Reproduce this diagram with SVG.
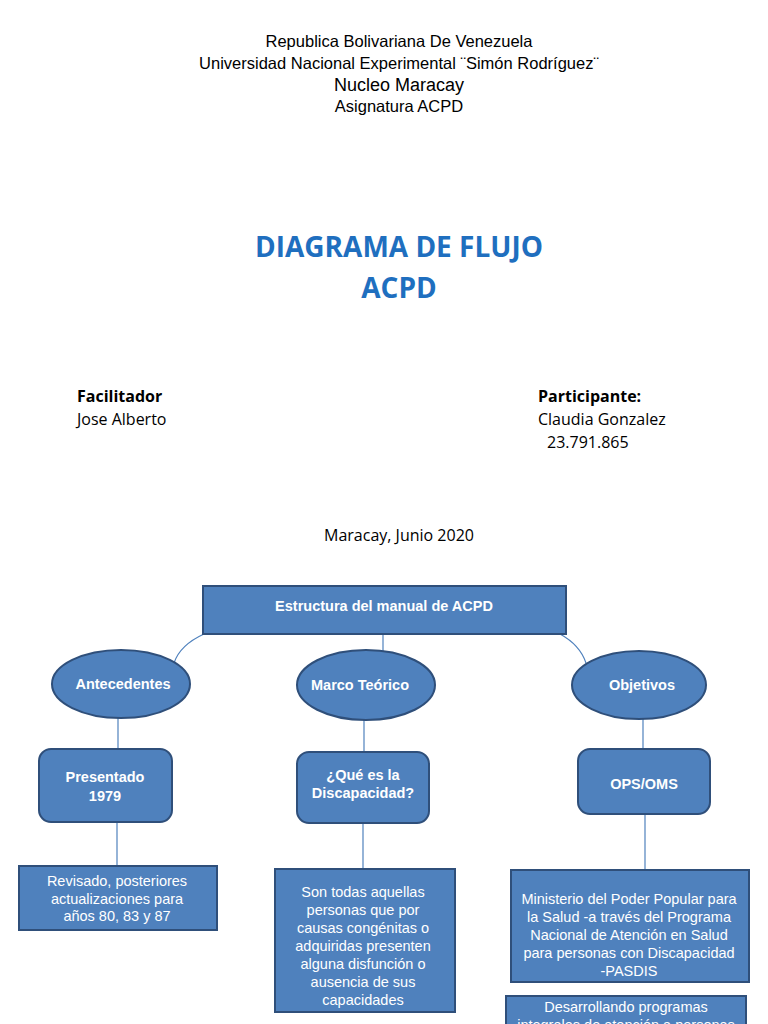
<svg xmlns="http://www.w3.org/2000/svg" width="768" height="1024" viewBox="0 0 768 1024">
<style>
.h{font-family:"Liberation Sans",Arial,sans-serif;fill:#000;text-anchor:middle}
.c{font-family:"Open Sans","Liberation Sans",sans-serif;fill:#000}
.t{font-family:"Open Sans","Liberation Sans",sans-serif;fill:#1F6FBF;font-weight:bold;font-size:28px;text-anchor:middle}
.n{fill:#4F81BD;stroke:#2F4F7A;stroke-width:2}
.w{font-family:"Liberation Sans",Arial,sans-serif;fill:#fff;text-anchor:middle;font-size:14.5px}
.b{font-weight:bold}
.l{fill:none;stroke:#4F81BD;stroke-width:1.2}
</style>
<rect width="768" height="1024" fill="#fff"/>
<text class="h" x="399" y="47" font-size="16.5">Republica Bolivariana De Venezuela</text>
<text class="h" x="399" y="69" font-size="16.5">Universidad Nacional Experimental ¨Simón Rodríguez¨</text>
<text class="h" x="399" y="91" font-size="18">Nucleo Maracay</text>
<text class="h" x="399" y="112" font-size="16.5">Asignatura ACPD</text>
<text class="t" x="399" y="257">DIAGRAMA DE FLUJO</text>
<text class="t" x="399" y="298">ACPD</text>
<text class="c b" x="77" y="402" font-size="16">Facilitador</text>
<text class="c" x="77" y="425" font-size="16">Jose Alberto</text>
<text class="c b" x="538" y="402" font-size="16">Participante:</text>
<text class="c" x="538" y="425" font-size="16">Claudia Gonzalez</text>
<text class="c" x="547" y="448" font-size="16">23.791.865</text>
<text class="c" x="399" y="541" font-size="16" text-anchor="middle">Maracay, Junio 2020</text>
<g id="connectors">
<path class="l" d="M204 634 Q180 645 174 663"/>
<path class="l" d="M383 635 V653"/>
<path class="l" d="M560 634 Q580 645 586 663"/>
<path class="l" d="M118 718 V749"/>
<path class="l" d="M364 719 V752"/>
<path class="l" d="M643 718 V749"/>
<path class="l" d="M117 822 V866"/>
<path class="l" d="M363 823 V869"/>
<path class="l" d="M645 814 V870"/>
</g>
<g id="root"><rect class="n" x="203" y="586" width="363" height="48"/><text class="w b" x="384" y="611">Estructura del manual de ACPD</text></g>
<g id="antecedentes"><ellipse class="n" cx="121" cy="684" rx="69" ry="34"/><text class="w b" x="123" y="689">Antecedentes</text></g>
<g id="marco"><ellipse class="n" cx="366" cy="685" rx="69" ry="35"/><text class="w b" x="360" y="690">Marco Teórico</text></g>
<g id="objetivos"><ellipse class="n" cx="639" cy="685" rx="67" ry="34"/><text class="w b" x="642" y="690">Objetivos</text></g>
<g id="presentado"><rect class="n" x="39" y="749" width="133" height="73" rx="12"/><text class="w b" x="105" y="782">Presentado</text><text class="w b" x="105" y="801">1979</text></g>
<g id="que"><rect class="n" x="297" y="752" width="132" height="71" rx="12"/><text class="w b" x="363" y="780">¿Qué es la</text><text class="w b" x="363" y="798">Discapacidad?</text></g>
<g id="ops"><rect class="n" x="578" y="749" width="132" height="65" rx="12"/><text class="w b" x="644" y="789">OPS/OMS</text></g>
<g id="revisado"><rect class="n" x="19" y="866" width="198" height="64"/><text class="w" x="117" y="886">Revisado, posteriores</text><text class="w" x="117" y="904">actualizaciones para</text><text class="w" x="117" y="921">años 80, 83 y 87</text></g>
<g id="son"><rect class="n" x="275" y="869" width="180" height="143"/>
<text class="w" x="363" y="897">Son todas aquellas</text><text class="w" x="363" y="915">personas que por</text><text class="w" x="363" y="933">causas congénitas o</text><text class="w" x="363" y="951">adquiridas presenten</text><text class="w" x="363" y="969">alguna disfunción o</text><text class="w" x="363" y="987">ausencia de sus</text><text class="w" x="363" y="1005">capacidades</text></g>
<g id="ministerio"><rect class="n" x="511" y="870" width="238" height="112"/>
<text class="w" x="629" y="904">Ministerio del Poder Popular para</text><text class="w" x="629" y="922">la Salud -a través del Programa</text><text class="w" x="629" y="940">Nacional de Atención en Salud</text><text class="w" x="629" y="958">para personas con Discapacidad</text><text class="w" x="629" y="976">-PASDIS</text></g>
<g id="desarrollando"><rect class="n" x="506" y="996" width="240" height="40"/><text class="w" x="626" y="1012">Desarrollando programas</text><text class="w" x="626" y="1030">integrales de atención a personas</text></g>
</svg>
